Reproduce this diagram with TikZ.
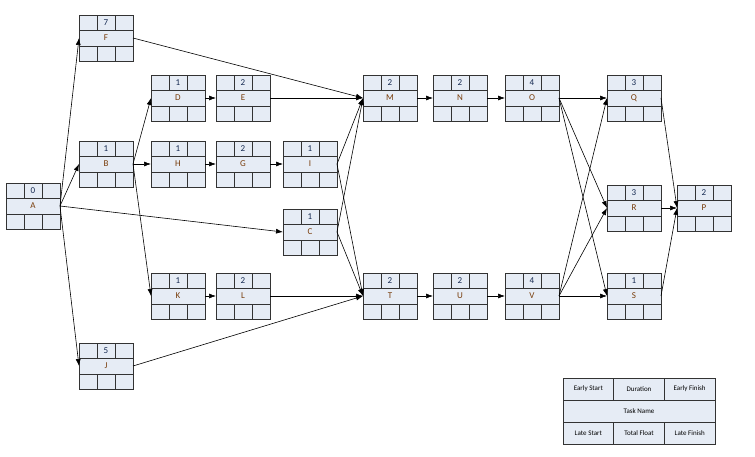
\documentclass[tikz,border=0pt]{standalone}
\usepackage{fontspec}
\setmainfont{Carlito}
\usetikzlibrary{arrows.meta, positioning}
\definecolor{cellfill}{RGB}{230,236,245}
\definecolor{namebrown}{RGB}{120,60,10}
\definecolor{durblue}{RGB}{20,40,80}

\tikzset{
	cell/.style={draw=black!80, fill=cellfill, line width=0.7pt},
	taskname/.style={cell, minimum width=54pt, minimum height=16pt, inner sep=0pt, outer sep=0pt, font=\small, text=namebrown},
	link/.style={-{Latex[length=7pt, width=5pt]}, line width=0.6pt}
}

% task box: name, position, duration
\newcommand\task[3]{%
	\node[taskname] (#1) at (#2) {#1};
	\foreach \i in {0,1,2} {
		\draw[cell] ([xshift=\i*18pt]#1.north west) rectangle ++(18pt,15pt);
		\draw[cell] ([xshift=\i*18pt]#1.south west) rectangle ++(18pt,-15pt);
	}
	\node[font=\small, text=durblue] at ([yshift=7.5pt]#1.north) {#3};
}

\begin{document}
\begin{tikzpicture}[x=1pt, y=-1pt]
	\useasboundingbox (0,0) rectangle (755,457);

	% Tasks
	\task{A}{33,206}{0}
	\task{F}{106,38}{7}
	\task{B}{106,164}{1}
	\task{J}{106,366}{5}
	\task{D}{178,98}{1}
	\task{E}{243,98}{2}
	\task{H}{178,164}{1}
	\task{G}{243,164}{2}
	\task{I}{310,164}{1}
	\task{C}{310,232}{1}
	\task{K}{178,296}{1}
	\task{L}{243,296}{2}
	\task{M}{390,98}{2}
	\task{N}{460,98}{2}
	\task{O}{532,98}{4}
	\task{T}{390,296}{2}
	\task{U}{460,296}{2}
	\task{V}{532,296}{4}
	\task{Q}{634,98}{3}
	\task{R}{634,208}{3}
	\task{S}{634,296}{1}
	\task{P}{704,208}{2}

	% Dependencies
	\foreach \a/\b in {A/F, A/B, A/C, A/J, F/M, B/D, B/H, B/K, D/E, E/M,
		H/G, G/I, I/M, I/T, C/M, C/T, K/L, L/T, J/T, M/N, N/O, T/U, U/V,
		O/Q, O/R, O/S, V/Q, V/R, V/S, Q/P, R/P, S/P}
		\draw[link] (\a.east) -- (\b.west);

	% Legend
	\node[cell, minimum width=152pt, minimum height=22pt, inner sep=0pt, outer sep=0pt, font=\scriptsize] (legend) at (639,411) {Task Name};
	\foreach \t [count=\i from 0] in {Early Start, Duration, Early Finish} {
		\draw[cell] ([xshift=\i*50.67pt]legend.north west) rectangle ++(50.67pt,22pt);
		\node[font=\scriptsize] at ([xshift=\i*50.67pt+25.33pt, yshift=11pt]legend.north west) {\t};
	}
	\foreach \t [count=\i from 0] in {Late Start, Total Float, Late Finish} {
		\draw[cell] ([xshift=\i*50.67pt]legend.south west) rectangle ++(50.67pt,-22pt);
		\node[font=\scriptsize] at ([xshift=\i*50.67pt+25.33pt, yshift=-11pt]legend.south west) {\t};
	}
\end{tikzpicture}
\end{document}
